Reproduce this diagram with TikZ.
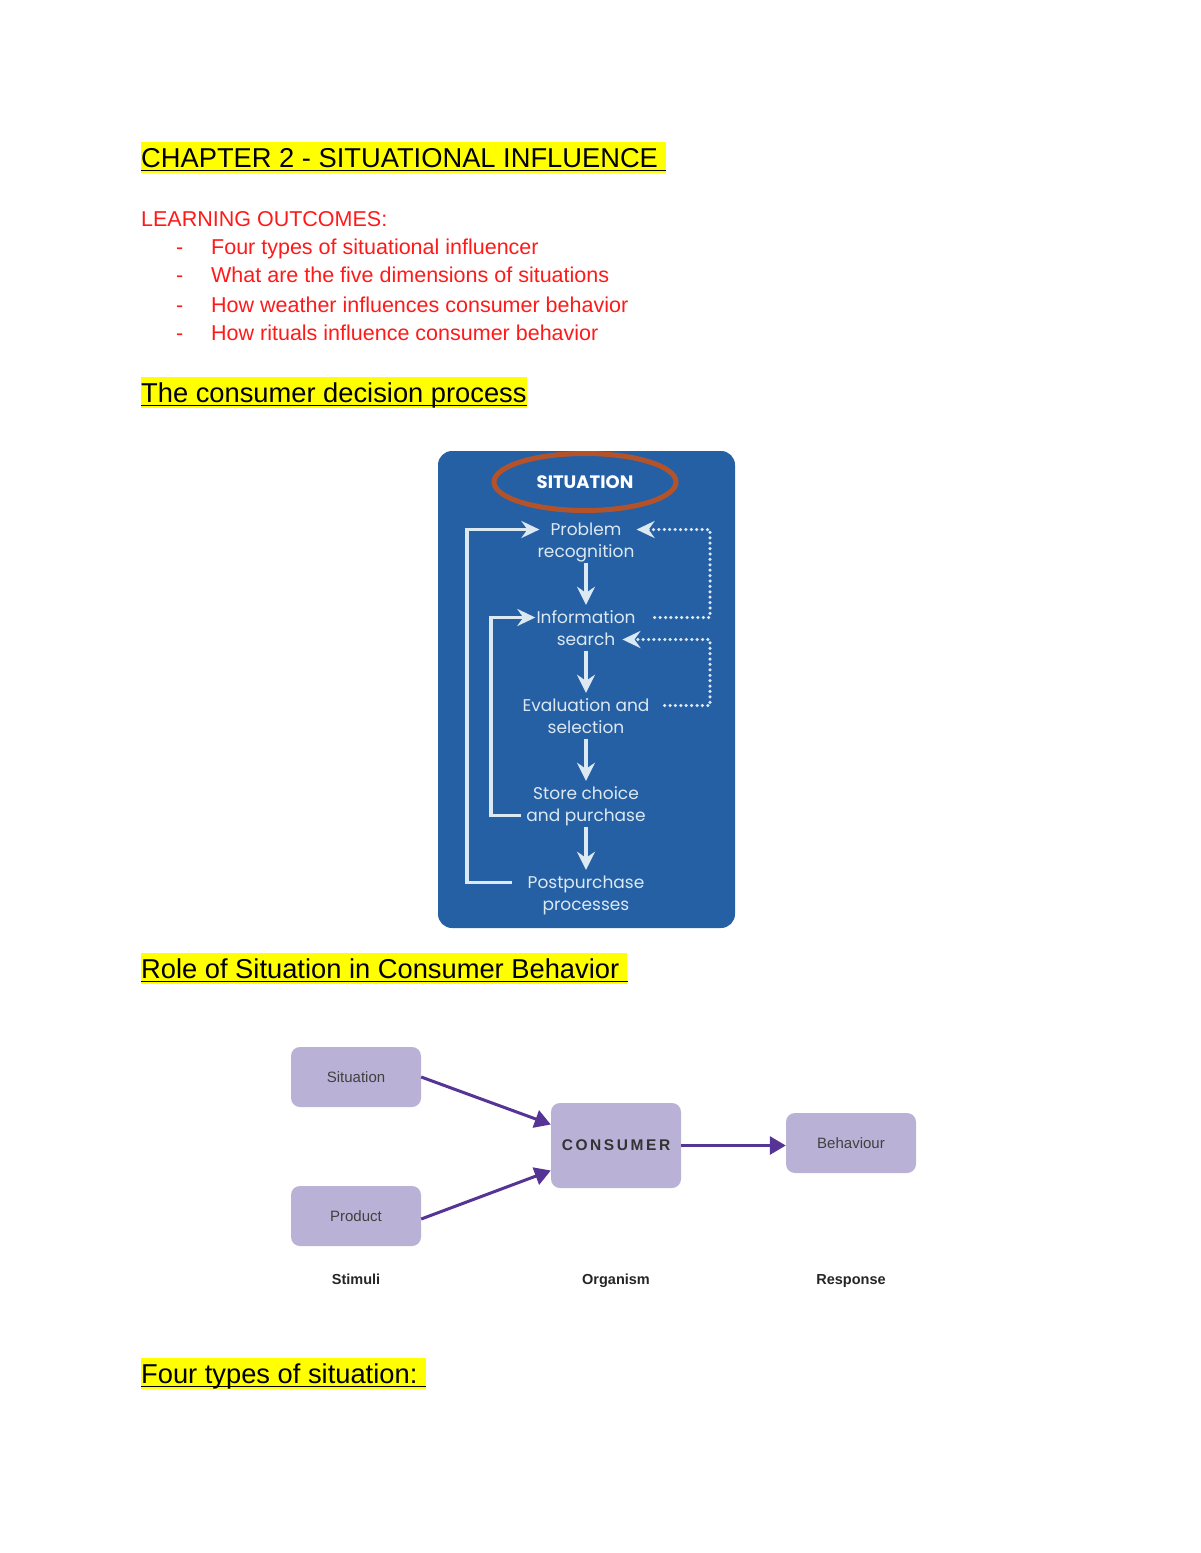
\documentclass[tikz,border=0pt]{standalone}
\usepackage{fontspec}
\setmainfont{Liberation Sans}
\newfontfamily\geo{Poppins}
\usetikzlibrary{arrows.meta,shapes.geometric}
\definecolor{boxblue}{HTML}{2560A5}
\definecolor{ringbrown}{HTML}{B4532A}
\definecolor{pale}{HTML}{DCE8F2}
\definecolor{lilac}{HTML}{BAB2D6}
\definecolor{violet}{HTML}{553496}
\definecolor{redtext}{HTML}{FF1A1A}
\definecolor{hlyellow}{HTML}{FFFF00}
\newcommand{\trailsp}{\kern0.3em}
\begin{document}
\begin{tikzpicture}[x=1pt,y=-1pt,
  hl/.style={fill=hlyellow, inner sep=0pt, text height=25pt, text depth=6pt, anchor=base west, font=\fontsize{27.3}{30}\selectfont},
  ul/.style={line width=1.8pt},
  outc/.style={text=redtext, inner sep=0pt, anchor=base west, font=\fontsize{21.5}{24}\selectfont},
  flow/.style={text=pale, inner sep=2pt, anchor=base, text height=15pt, text depth=4pt, font=\geo\fontsize{17}{20}\selectfont},
  downarrow/.style={draw=pale, line width=3.5pt, shorten >=1pt, -{Stealth[length=18pt,width=18pt,inset=6pt]}},
  loopline/.style={draw=pale, line width=3.5pt, -{Stealth[length=18pt,width=17pt,inset=6pt]}},
  dotline/.style={draw=pale, line width=3.5pt, line cap=round, dash pattern=on 0pt off 5.4pt, -{Stealth[length=18pt,width=17pt,inset=6pt]}},
  pbox/.style={fill=lilac, rounded corners=9pt, minimum width=130pt, minimum height=60pt, inner sep=0pt, text=black!75, font=\fontsize{15}{18}\selectfont},
  parrow/.style={draw=violet, line width=3pt, -{Triangle[length=16pt,width=18pt]}},
  lab/.style={anchor=base, font=\bfseries\fontsize{14.5}{17}\selectfont, text=black!85}]
\useasboundingbox (0,0) rectangle (1200,1553);
\fill[white] (0,0) rectangle (1200,1553);

% Title
\node[hl] (h1) at (141,167) {CHAPTER 2 - SITUATIONAL INFLUENCE\trailsp};
\draw[ul] ([yshift=-3.5pt]h1.base west) -- ([yshift=-3.5pt]h1.base east);

% Learning outcomes
\node[outc] (lo) at (141,226) {LEARNING OUTCOMES:};
\node[outc] (b1) at (176,254) {-};
\node[outc] (o1) at (211,254) {Four types of situational influencer};
\node[outc] (b2) at (176,282) {-};
\node[outc] (o2) at (211,282) {What are the five dimensions of situations};
\node[outc] (b3) at (176,312) {-};
\node[outc] (o3) at (211,312) {How weather influences consumer behavior};
\node[outc] (b4) at (176,340) {-};
\node[outc] (o4) at (211,340) {How rituals influence consumer behavior};

% Heading 2
\node[hl] (h2) at (141,402) {The consumer decision process};
\draw[ul] ([yshift=-3.5pt]h2.base west) -- ([yshift=-3.5pt]h2.base east);

% Blue panel
\fill[boxblue, rounded corners=14pt] (438,451) rectangle (735,928);
\node[ellipse, draw=ringbrown, line width=5pt, minimum width=182pt, minimum height=57pt, inner sep=0pt, text=white, font=\geo\bfseries\fontsize{18}{20}\selectfont] (sit) at (585,482) {SITUATION};

\node[flow] (pr1) at (586,535) {Problem};
\node[flow] (pr2) at (586,557) {recognition};
\node[flow] (is1) at (586,623) {Information};
\node[flow] (is2) at (586,645) {search};
\node[flow] (es1) at (586,711) {Evaluation and};
\node[flow] (es2) at (586,733) {selection};
\node[flow] (sc1) at (586,799) {Store choice};
\node[flow] (sc2) at (586,821) {and purchase};
\node[flow] (pp1) at (586,888) {Postpurchase};
\node[flow] (pp2) at (586,910) {processes};

\coordinate (L1) at (467,0);
\coordinate (L2) at (491,0);
\coordinate (R) at (710,0);

\draw[downarrow] (pr2.south) -- (is1.north);
\draw[downarrow] (is2.south) -- (es1.north);
\draw[downarrow] (es2.south) -- (sc1.north);
\draw[downarrow] (sc2.south) -- (pp1.north);

\draw[loopline] ([xshift=-14pt]pp1.west) -- (pp1.west -| L1) |- ([xshift=-9pt]pr1.west);
\draw[loopline] ([xshift=-3pt]sc2.west) -- (sc2.west -| L2) |- ([xshift=1pt]is1.west);
\draw[dotline] ([xshift=17pt]is1.east) -- (is1.east -| R) |- ([xshift=13pt]pr1.east);
\draw[dotline] ([xshift=13pt]es1.east) -- (es1.east -| R) |- ([xshift=5pt]is2.east);

% Heading 3
\node[hl] (h3) at (141,978) {Role of Situation in Consumer Behavior\trailsp};
\draw[ul] ([yshift=-3.5pt]h3.base west) -- ([yshift=-3.5pt]h3.base east);

% S-O-R diagram
\node[pbox] (psit) at (356,1077) {Situation};
\node[pbox] (pprod) at (356,1216) {Product};
\node[pbox, minimum height=85pt, font=\bfseries\fontsize{15.5}{18}\selectfont, text=black!80] (pcons) at (616,1145.5) {C\,O\,N\,S\,U\,M\,E\,R};
\node[pbox] (pbeh) at (851,1143) {Behaviour};

\draw[parrow] (psit.east) -- ([yshift=21pt]pcons.west);
\draw[parrow] ([yshift=-3pt]pprod.east) -- ([yshift=-25pt]pcons.west);
\draw[parrow] (pcons.east) -- (pcons.east -| pbeh.west);

\node[lab] (stim) at (356,1284) {Stimuli};
\node[lab] (org) at (616,1284) {Organism};
\node[lab] (resp) at (851,1284) {Response};

% Heading 4
\node[hl] (h4) at (141,1383) {Four types of situation:\trailsp};
\draw[ul] ([yshift=-3.5pt]h4.base west) -- ([yshift=-3.5pt]h4.base east);
\end{tikzpicture}
\end{document}
